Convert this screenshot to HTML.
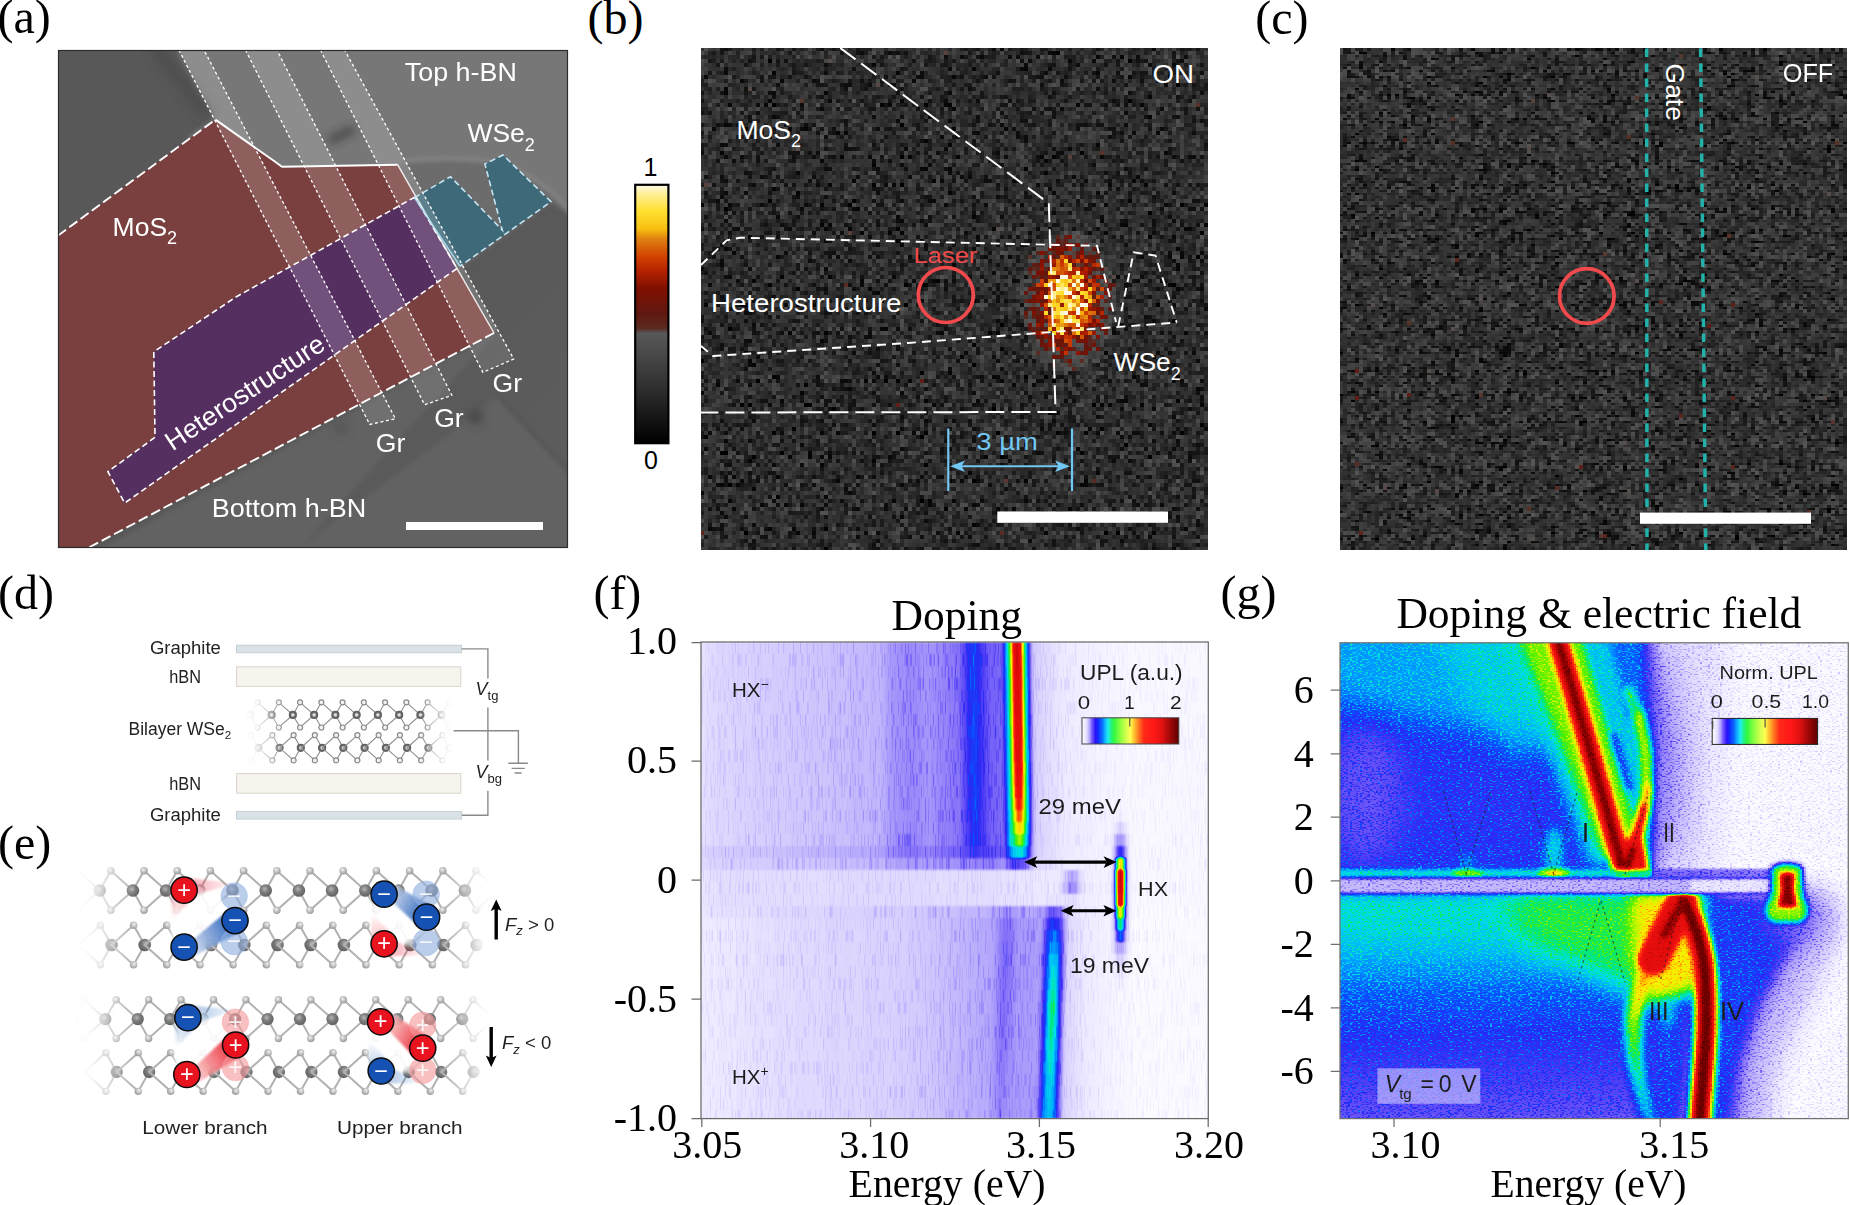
<!DOCTYPE html>
<html lang="en">
<head>
<meta charset="utf-8">
<title>Figure: heterostructure exciton transport and bilayer WSe2 UPL maps</title>
<style>
html,body{margin:0;padding:0;background:#fff;}
body{width:1850px;height:1205px;overflow:hidden;position:relative;}
svg{position:absolute;left:0;top:0;display:block;}
.ss{font-family:"Liberation Sans", "DejaVu Sans", sans-serif;}
.sf{font-family:"Liberation Serif", "DejaVu Serif", serif;}
</style>
</head>
<body>
<svg width="1850" height="1205" viewBox="0 0 1850 1205">
<defs>
<clipPath id="clipA"><rect x="58" y="50" width="510" height="498"/></clipPath>
<filter id="blurA" x="-5%" y="-5%" width="110%" height="110%"><feGaussianBlur stdDeviation="2.2"/></filter>
<filter id="blurA2" x="-20%" y="-20%" width="140%" height="140%"><feGaussianBlur stdDeviation="5"/></filter>
<linearGradient id="gA" x1="0" y1="0" x2="1" y2="1"><stop offset="0" stop-color="#5c5c5c"/><stop offset="0.5" stop-color="#575757"/><stop offset="1" stop-color="#5e5e5e"/></linearGradient>
<clipPath id="clipLo"><path d="M88,548 L494,333 L522,296 L568,296 L568,548 Z"/></clipPath>
<clipPath id="clipHi"><path d="M58,50 H568 V296 H522 L494,333 L88,548 H58 Z"/></clipPath>
<filter id="nzB" filterUnits="userSpaceOnUse" x="701" y="48" width="507" height="502" color-interpolation-filters="sRGB"><feTurbulence type="fractalNoise" baseFrequency="0.71" numOctaves="1" seed="7" result="n0"/><feColorMatrix in="n0" type="matrix" values="0.8 0 0 0 -0.190  0.8 0 0 0 -0.190  0.8 0 0 0 -0.190  0 0 0 0 1" result="n1"/><feComposite in="SourceGraphic" in2="n1" operator="arithmetic" k1="1.1" k2="0.77" k3="1" k4="0" result="sum"/><feFlood x="701" y="48" width="1" height="1" flood-color="#000" result="px"/><feComposite in="px" in2="px" operator="over" x="701" y="48" width="4" height="4" result="cell"/><feTile in="cell" result="grid"/><feComposite in="sum" in2="grid" operator="in" result="samp"/><feOffset in="samp" dx="1" dy="0" result="o1"/><feMerge result="m1"><feMergeNode in="samp"/><feMergeNode in="o1"/></feMerge><feOffset in="m1" dx="0" dy="1" result="o2"/><feMerge result="m2"><feMergeNode in="m1"/><feMergeNode in="o2"/></feMerge><feMorphology in="m2" operator="dilate" radius="1" result="pix"/><feComponentTransfer in="pix" result="col"><feFuncR type="table" tableValues="0 0.009 0.017 0.026 0.035 0.043 0.052 0.06 0.069 0.078 0.086 0.095 0.104 0.112 0.121 0.129 0.138 0.147 0.155 0.164 0.173 0.18 0.188 0.196 0.204 0.212 0.22 0.227 0.235 0.243 0.251 0.258 0.266 0.273 0.281 0.288 0.296 0.303 0.311 0.318 0.325 0.333 0.341 0.347 0.351 0.355 0.359 0.364 0.368 0.372 0.376 0.389 0.402 0.414 0.427 0.439 0.452 0.464 0.477 0.489 0.502 0.533 0.565 0.596 0.627 0.659 0.69 0.711 0.732 0.753 0.774 0.795 0.816 0.825 0.834 0.843 0.852 0.861 0.869 0.878 0.902 0.925 0.949 0.973 0.976 0.98 0.984 0.988 0.992 0.996 1 1 1 1 1 1 1 1 1 1 1"/><feFuncG type="table" tableValues="0 0.009 0.017 0.026 0.035 0.043 0.052 0.06 0.069 0.078 0.086 0.095 0.104 0.112 0.121 0.129 0.138 0.147 0.155 0.164 0.173 0.18 0.188 0.196 0.204 0.212 0.22 0.227 0.235 0.243 0.251 0.258 0.266 0.273 0.281 0.288 0.296 0.303 0.311 0.318 0.325 0.333 0.341 0.3 0.21 0.158 0.145 0.133 0.12 0.107 0.094 0.091 0.088 0.085 0.082 0.078 0.075 0.072 0.069 0.066 0.063 0.073 0.084 0.094 0.105 0.115 0.125 0.146 0.167 0.188 0.209 0.23 0.251 0.287 0.323 0.359 0.394 0.43 0.466 0.502 0.565 0.627 0.69 0.753 0.771 0.789 0.807 0.825 0.843 0.861 0.878 0.887 0.896 0.905 0.914 0.923 0.932 0.941 0.956 0.97 0.984"/><feFuncB type="table" tableValues="0 0.009 0.017 0.026 0.035 0.043 0.052 0.06 0.069 0.078 0.086 0.095 0.104 0.112 0.121 0.129 0.138 0.147 0.155 0.164 0.173 0.18 0.188 0.196 0.204 0.212 0.22 0.227 0.235 0.243 0.251 0.258 0.266 0.273 0.281 0.288 0.296 0.303 0.311 0.318 0.325 0.333 0.341 0.29 0.18 0.12 0.108 0.097 0.086 0.074 0.063 0.056 0.05 0.044 0.038 0.031 0.025 0.019 0.013 0.006 0 0 0 0 0 0 0 0 0 0 0 0 0 0.009 0.018 0.027 0.036 0.045 0.054 0.063 0.063 0.063 0.063 0.063 0.081 0.099 0.117 0.134 0.152 0.17 0.188 0.251 0.314 0.376 0.439 0.502 0.565 0.627 0.722 0.816 0.91"/></feComponentTransfer></filter>
<radialGradient id="spot1"><stop offset="0" stop-color="#fff" stop-opacity="0.72"/><stop offset="0.30" stop-color="#fff" stop-opacity="0.66"/><stop offset="0.42" stop-color="#fff" stop-opacity="0.55"/><stop offset="0.54" stop-color="#fff" stop-opacity="0.40"/><stop offset="0.77" stop-color="#fff" stop-opacity="0.23"/><stop offset="1" stop-color="#fff" stop-opacity="0"/></radialGradient>
<radialGradient id="spot2"><stop offset="0" stop-color="#fff" stop-opacity="0.55"/><stop offset="0.5" stop-color="#fff" stop-opacity="0.32"/><stop offset="1" stop-color="#fff" stop-opacity="0"/></radialGradient>
<linearGradient id="gHot" x1="0" y1="0" x2="0" y2="1"><stop offset="0.000" stop-color="#fffbe8"/><stop offset="0.030" stop-color="#fff0a0"/><stop offset="0.100" stop-color="#ffe030"/><stop offset="0.170" stop-color="#f8c010"/><stop offset="0.210" stop-color="#e08010"/><stop offset="0.280" stop-color="#d04000"/><stop offset="0.340" stop-color="#b02000"/><stop offset="0.400" stop-color="#801000"/><stop offset="0.500" stop-color="#601810"/><stop offset="0.555" stop-color="#5a2a20"/><stop offset="0.575" stop-color="#585858"/><stop offset="0.600" stop-color="#535353"/><stop offset="0.700" stop-color="#404040"/><stop offset="0.800" stop-color="#2c2c2c"/><stop offset="0.900" stop-color="#161616"/><stop offset="1.000" stop-color="#000000"/></linearGradient>
<filter id="nzC" filterUnits="userSpaceOnUse" x="1340" y="48.6" width="507" height="501.4" color-interpolation-filters="sRGB"><feTurbulence type="fractalNoise" baseFrequency="0.71" numOctaves="1" seed="23" result="n0"/><feColorMatrix in="n0" type="matrix" values="0.8 0 0 0 -0.190  0.8 0 0 0 -0.190  0.8 0 0 0 -0.190  0 0 0 0 1" result="n1"/><feComposite in="SourceGraphic" in2="n1" operator="arithmetic" k1="1.1" k2="0.77" k3="1" k4="0" result="sum"/><feFlood x="1340" y="48.6" width="1" height="1" flood-color="#000" result="px"/><feComposite in="px" in2="px" operator="over" x="1340" y="48.6" width="4" height="4" result="cell"/><feTile in="cell" result="grid"/><feComposite in="sum" in2="grid" operator="in" result="samp"/><feOffset in="samp" dx="1" dy="0" result="o1"/><feMerge result="m1"><feMergeNode in="samp"/><feMergeNode in="o1"/></feMerge><feOffset in="m1" dx="0" dy="1" result="o2"/><feMerge result="m2"><feMergeNode in="m1"/><feMergeNode in="o2"/></feMerge><feMorphology in="m2" operator="dilate" radius="1" result="pix"/><feComponentTransfer in="pix" result="col"><feFuncR type="table" tableValues="0 0.009 0.017 0.026 0.035 0.043 0.052 0.06 0.069 0.078 0.086 0.095 0.104 0.112 0.121 0.129 0.138 0.147 0.155 0.164 0.173 0.18 0.188 0.196 0.204 0.212 0.22 0.227 0.235 0.243 0.251 0.258 0.266 0.273 0.281 0.288 0.296 0.303 0.311 0.318 0.325 0.333 0.341 0.347 0.351 0.355 0.359 0.364 0.368 0.372 0.376 0.389 0.402 0.414 0.427 0.439 0.452 0.464 0.477 0.489 0.502 0.533 0.565 0.596 0.627 0.659 0.69 0.711 0.732 0.753 0.774 0.795 0.816 0.825 0.834 0.843 0.852 0.861 0.869 0.878 0.902 0.925 0.949 0.973 0.976 0.98 0.984 0.988 0.992 0.996 1 1 1 1 1 1 1 1 1 1 1"/><feFuncG type="table" tableValues="0 0.009 0.017 0.026 0.035 0.043 0.052 0.06 0.069 0.078 0.086 0.095 0.104 0.112 0.121 0.129 0.138 0.147 0.155 0.164 0.173 0.18 0.188 0.196 0.204 0.212 0.22 0.227 0.235 0.243 0.251 0.258 0.266 0.273 0.281 0.288 0.296 0.303 0.311 0.318 0.325 0.333 0.341 0.3 0.21 0.158 0.145 0.133 0.12 0.107 0.094 0.091 0.088 0.085 0.082 0.078 0.075 0.072 0.069 0.066 0.063 0.073 0.084 0.094 0.105 0.115 0.125 0.146 0.167 0.188 0.209 0.23 0.251 0.287 0.323 0.359 0.394 0.43 0.466 0.502 0.565 0.627 0.69 0.753 0.771 0.789 0.807 0.825 0.843 0.861 0.878 0.887 0.896 0.905 0.914 0.923 0.932 0.941 0.956 0.97 0.984"/><feFuncB type="table" tableValues="0 0.009 0.017 0.026 0.035 0.043 0.052 0.06 0.069 0.078 0.086 0.095 0.104 0.112 0.121 0.129 0.138 0.147 0.155 0.164 0.173 0.18 0.188 0.196 0.204 0.212 0.22 0.227 0.235 0.243 0.251 0.258 0.266 0.273 0.281 0.288 0.296 0.303 0.311 0.318 0.325 0.333 0.341 0.29 0.18 0.12 0.108 0.097 0.086 0.074 0.063 0.056 0.05 0.044 0.038 0.031 0.025 0.019 0.013 0.006 0 0 0 0 0 0 0 0 0 0 0 0 0 0.009 0.018 0.027 0.036 0.045 0.054 0.063 0.063 0.063 0.063 0.063 0.081 0.099 0.117 0.134 0.152 0.17 0.188 0.251 0.314 0.376 0.439 0.502 0.565 0.627 0.722 0.816 0.91"/></feComponentTransfer></filter>
<radialGradient id="gWd" cx="0.5" cy="0.5" r="0.5"><stop offset="0" stop-color="#f4f4f4"/><stop offset="0.3" stop-color="#d0d0d0"/><stop offset="0.55" stop-color="#6a6a6a"/><stop offset="1" stop-color="#5a5a5a"/></radialGradient>
<g id="ud"><path d="M0,0 L7.2,-12.6 L21.26,0 L7.2,12.6 Z" fill="none" stroke="#8c8c8c" stroke-width="1.1"/><circle cx="7.2" cy="-12.6" r="2.5" fill="#f2f2f2" stroke="#8a8a8a" stroke-width="1.2"/><circle cx="7.2" cy="12.6" r="2.5" fill="#f2f2f2" stroke="#8a8a8a" stroke-width="1.2"/><circle cx="0" cy="0" r="4.1" fill="url(#gWd)"/></g>
<linearGradient id="fadeL" x1="0" y1="0" x2="1" y2="0"><stop offset="0" stop-color="#fff" stop-opacity="1"/><stop offset="0.25" stop-color="#fff" stop-opacity="0.92"/><stop offset="1" stop-color="#fff" stop-opacity="0"/></linearGradient>
<linearGradient id="fadeR" x1="0" y1="0" x2="1" y2="0"><stop offset="0" stop-color="#fff" stop-opacity="0"/><stop offset="0.75" stop-color="#fff" stop-opacity="0.92"/><stop offset="1" stop-color="#fff" stop-opacity="1"/></linearGradient>
<radialGradient id="gW" cx="0.42" cy="0.38" r="0.62"><stop offset="0" stop-color="#b4b4b4"/><stop offset="0.5" stop-color="#7a7a7a"/><stop offset="1" stop-color="#626262"/></radialGradient>
<radialGradient id="gSe" cx="0.42" cy="0.38" r="0.62"><stop offset="0" stop-color="#f2f2f2"/><stop offset="0.45" stop-color="#c6c6c6"/><stop offset="1" stop-color="#9a9a9a"/></radialGradient>
<g id="ue"><path d="M0,0 L11.1,-19.8 L33.2,0 L11.1,19.8 Z" fill="none" stroke="#b2b2b2" stroke-width="2"/><circle cx="11.1" cy="-19.8" r="3.8" fill="url(#gSe)"/><circle cx="11.1" cy="19.8" r="3.8" fill="url(#gSe)"/><circle cx="0" cy="0" r="6.3" fill="url(#gW)"/></g>
<filter id="soft" x="-2%" y="-5%" width="104%" height="110%"><feGaussianBlur stdDeviation="0.55"/></filter>
<filter id="soft2" x="-30%" y="-30%" width="160%" height="160%"><feGaussianBlur stdDeviation="2.2"/></filter>
<filter id="soft3" x="-30%" y="-30%" width="160%" height="160%"><feGaussianBlur stdDeviation="1.3"/></filter>
<linearGradient id="tr0" gradientUnits="userSpaceOnUse" x1="184.1" y1="947.1" x2="235" y2="920.6"><stop offset="0" stop-color="#1552b4" stop-opacity="0.12"/><stop offset="1" stop-color="#1552b4" stop-opacity="0.9"/></linearGradient>
<linearGradient id="sg0" gradientUnits="userSpaceOnUse" x1="184.1" y1="890.2" x2="234.2" y2="896.1"><stop offset="0" stop-color="#e9121f" stop-opacity="0.38"/><stop offset="1" stop-color="#e9121f" stop-opacity="0.0"/></linearGradient>
<linearGradient id="sh0" gradientUnits="userSpaceOnUse" x1="184.1" y1="890.2" x2="184.1" y2="920.2"><stop offset="0" stop-color="#e9121f" stop-opacity="0.3"/><stop offset="1" stop-color="#e9121f" stop-opacity="0.0"/></linearGradient>
<linearGradient id="tr1" gradientUnits="userSpaceOnUse" x1="384.1" y1="894.2" x2="426.6" y2="917.2"><stop offset="0" stop-color="#1552b4" stop-opacity="0.12"/><stop offset="1" stop-color="#1552b4" stop-opacity="0.9"/></linearGradient>
<linearGradient id="sg1" gradientUnits="userSpaceOnUse" x1="384.1" y1="943.8" x2="426.2" y2="942.4"><stop offset="0" stop-color="#e9121f" stop-opacity="0.38"/><stop offset="1" stop-color="#e9121f" stop-opacity="0.0"/></linearGradient>
<linearGradient id="sh1" gradientUnits="userSpaceOnUse" x1="384.1" y1="943.8" x2="384.1" y2="913.8"><stop offset="0" stop-color="#e9121f" stop-opacity="0.3"/><stop offset="1" stop-color="#e9121f" stop-opacity="0.0"/></linearGradient>
<linearGradient id="tr2" gradientUnits="userSpaceOnUse" x1="186.8" y1="1074.5" x2="235.6" y2="1045"><stop offset="0" stop-color="#e9121f" stop-opacity="0.12"/><stop offset="1" stop-color="#e9121f" stop-opacity="0.9"/></linearGradient>
<linearGradient id="sg2" gradientUnits="userSpaceOnUse" x1="187.9" y1="1017.7" x2="235.4" y2="1022.2"><stop offset="0" stop-color="#1552b4" stop-opacity="0.38"/><stop offset="1" stop-color="#1552b4" stop-opacity="0.0"/></linearGradient>
<linearGradient id="sh2" gradientUnits="userSpaceOnUse" x1="187.9" y1="1017.7" x2="187.9" y2="1047.7"><stop offset="0" stop-color="#1552b4" stop-opacity="0.3"/><stop offset="1" stop-color="#1552b4" stop-opacity="0.0"/></linearGradient>
<linearGradient id="tr3" gradientUnits="userSpaceOnUse" x1="380.6" y1="1021.8" x2="422.7" y2="1048.2"><stop offset="0" stop-color="#e9121f" stop-opacity="0.12"/><stop offset="1" stop-color="#e9121f" stop-opacity="0.9"/></linearGradient>
<linearGradient id="sg3" gradientUnits="userSpaceOnUse" x1="381.2" y1="1071" x2="422.7" y2="1070.4"><stop offset="0" stop-color="#1552b4" stop-opacity="0.38"/><stop offset="1" stop-color="#1552b4" stop-opacity="0.0"/></linearGradient>
<linearGradient id="sh3" gradientUnits="userSpaceOnUse" x1="381.2" y1="1071" x2="381.2" y2="1041"><stop offset="0" stop-color="#1552b4" stop-opacity="0.3"/><stop offset="1" stop-color="#1552b4" stop-opacity="0.0"/></linearGradient>
<linearGradient id="gJet" x1="0" y1="0" x2="1" y2="0"><stop offset="0.000" stop-color="#ffffff"/><stop offset="0.050" stop-color="#e0dcff"/><stop offset="0.080" stop-color="#b0a0ff"/><stop offset="0.100" stop-color="#7a60ff"/><stop offset="0.140" stop-color="#2810f8"/><stop offset="0.170" stop-color="#1030ff"/><stop offset="0.210" stop-color="#0a70ff"/><stop offset="0.240" stop-color="#10b8ff"/><stop offset="0.270" stop-color="#20f0f0"/><stop offset="0.290" stop-color="#20f0a0"/><stop offset="0.330" stop-color="#30f840"/><stop offset="0.400" stop-color="#90ff40"/><stop offset="0.460" stop-color="#d8ff50"/><stop offset="0.500" stop-color="#ffff50"/><stop offset="0.540" stop-color="#ffc030"/><stop offset="0.590" stop-color="#ff7020"/><stop offset="0.640" stop-color="#ff2818"/><stop offset="0.740" stop-color="#ff1818"/><stop offset="0.830" stop-color="#e01010"/><stop offset="0.910" stop-color="#a00808"/><stop offset="1.000" stop-color="#600000"/></linearGradient>
<clipPath id="clipF"><rect x="701" y="642" width="507.29999999999995" height="476.5999999999999"/></clipPath>
<filter id="mapF" filterUnits="userSpaceOnUse" x="701" y="642" width="507.29999999999995" height="476.5999999999999" color-interpolation-filters="sRGB"><feTurbulence type="fractalNoise" baseFrequency="0.6 0.21" numOctaves="1" seed="11" result="n0"/><feColorMatrix in="n0" type="matrix" values="0.17 0 0 0 -0.085  0.17 0 0 0 -0.085  0.17 0 0 0 -0.085  0 0 0 0 1" result="n1"/><feComposite in="SourceGraphic" in2="n1" operator="arithmetic" k1="0.7" k2="1" k3="0.6" k4="0" result="sum"/><feFlood x="701" y="647" width="507.29999999999995" height="1" flood-color="#000" result="px"/><feComposite in="px" in2="px" operator="over" x="701" y="642" width="507.29999999999995" height="12" result="cell"/><feTile in="cell" result="grid"/><feComposite in="sum" in2="grid" operator="in" result="samp"/><feOffset in="samp" dx="0" dy="1" result="o1"/><feMerge result="m1"><feMergeNode in="samp"/><feMergeNode in="o1"/></feMerge><feMorphology in="m1" operator="dilate" radius="0 5" result="rows"/><feGaussianBlur in="rows" stdDeviation="0.5 0.9" result="rowsb"/><feComponentTransfer in="rowsb" result="col"><feFuncR type="table" tableValues="1 0.981 0.963 0.944 0.925 0.895 0.865 0.834 0.804 0.758 0.712 0.666 0.62 0.558 0.496 0.434 0.373 0.303 0.234 0.165 0.123 0.081 0.039 0.029 0.02 0.01 0 0 0 0 0 0 0 0 0 0.029 0.086 0.143 0.2 0.257 0.314 0.392 0.471 0.549 0.627 0.706 0.784 0.827 0.871 0.914 0.957 1 1 1 1 1 1 1 1 1 1 1 1 1 0.992 0.983 0.975 0.966 0.958 0.95 0.941 0.935 0.929 0.922 0.916 0.91 0.904 0.897 0.891 0.885 0.878 0.857 0.835 0.814 0.792 0.771 0.749 0.727 0.706 0.677 0.648 0.618 0.589 0.56 0.531 0.502 0.474 0.445 0.417 0.389 0.361"/><feFuncG type="table" tableValues="1 0.977 0.955 0.932 0.91 0.875 0.839 0.804 0.769 0.717 0.665 0.613 0.561 0.493 0.425 0.358 0.29 0.243 0.196 0.149 0.204 0.259 0.314 0.4 0.486 0.573 0.659 0.714 0.769 0.824 0.878 0.885 0.892 0.899 0.906 0.913 0.918 0.924 0.93 0.935 0.941 0.946 0.952 0.957 0.962 0.967 0.973 0.965 0.957 0.949 0.941 0.933 0.877 0.821 0.765 0.708 0.652 0.596 0.528 0.46 0.392 0.324 0.256 0.188 0.17 0.152 0.134 0.117 0.099 0.081 0.063 0.061 0.06 0.058 0.056 0.055 0.053 0.052 0.05 0.049 0.047 0.043 0.039 0.035 0.031 0.027 0.024 0.02 0.016 0.013 0.011 0.009 0.007 0.004 0.002 0 0 0 0 0 0"/><feFuncB type="table" tableValues="1 1 1 1 1 0.998 0.996 0.994 0.992 0.989 0.986 0.983 0.98 0.976 0.973 0.969 0.965 0.962 0.959 0.957 0.971 0.986 1 1 1 1 1 0.977 0.955 0.932 0.91 0.812 0.715 0.617 0.519 0.428 0.342 0.257 0.171 0.086 0 0 0 0 0 0 0 0 0 0 0 0 0 0 0 0 0 0 0.01 0.021 0.031 0.042 0.052 0.063 0.063 0.063 0.063 0.063 0.063 0.063 0.063 0.061 0.06 0.058 0.056 0.055 0.053 0.052 0.05 0.049 0.047 0.043 0.039 0.035 0.031 0.027 0.024 0.02 0.016 0.013 0.011 0.009 0.007 0.004 0.002 0 0 0 0 0 0"/></feComponentTransfer></filter>
<filter id="fb2" filterUnits="userSpaceOnUse" x="661" y="602" width="587.3" height="556.5999999999999" color-interpolation-filters="sRGB"><feGaussianBlur stdDeviation="2.2"/></filter>
<filter id="fb3" filterUnits="userSpaceOnUse" x="661" y="602" width="587.3" height="556.5999999999999" color-interpolation-filters="sRGB"><feGaussianBlur stdDeviation="3.2 5"/></filter>
<filter id="fb6" filterUnits="userSpaceOnUse" x="661" y="602" width="587.3" height="556.5999999999999" color-interpolation-filters="sRGB"><feGaussianBlur stdDeviation="6 5"/></filter>
<filter id="fb14" filterUnits="userSpaceOnUse" x="661" y="602" width="587.3" height="556.5999999999999" color-interpolation-filters="sRGB"><feGaussianBlur stdDeviation="14 4"/></filter>
<linearGradient id="f_bgU" gradientUnits="userSpaceOnUse" x1="701" y1="0" x2="1130" y2="0"><stop offset="0.0000" stop-color="#fff" stop-opacity="0.055"/><stop offset="0.2308" stop-color="#fff" stop-opacity="0.075"/><stop offset="0.4639" stop-color="#fff" stop-opacity="0.095"/><stop offset="0.5804" stop-color="#fff" stop-opacity="0.13"/><stop offset="0.6970" stop-color="#fff" stop-opacity="0.16"/><stop offset="0.7669" stop-color="#fff" stop-opacity="0.07"/><stop offset="0.8601" stop-color="#fff" stop-opacity="0.03"/><stop offset="1.0000" stop-color="#fff" stop-opacity="0.012"/></linearGradient>
<linearGradient id="f_bgL" gradientUnits="userSpaceOnUse" x1="701" y1="0" x2="1130" y2="0"><stop offset="0.0000" stop-color="#fff" stop-opacity="0.035"/><stop offset="0.2308" stop-color="#fff" stop-opacity="0.055"/><stop offset="0.4639" stop-color="#fff" stop-opacity="0.065"/><stop offset="0.6620" stop-color="#fff" stop-opacity="0.1"/><stop offset="0.7902" stop-color="#fff" stop-opacity="0.12"/><stop offset="0.8462" stop-color="#fff" stop-opacity="0.06"/><stop offset="0.9068" stop-color="#fff" stop-opacity="0.03"/><stop offset="1.0000" stop-color="#fff" stop-opacity="0.008"/></linearGradient>
<linearGradient id="f_bgM" gradientUnits="userSpaceOnUse" x1="701" y1="0" x2="1130" y2="0"><stop offset="0.0000" stop-color="#fff" stop-opacity="0.05"/><stop offset="0.4639" stop-color="#fff" stop-opacity="0.055"/><stop offset="0.6970" stop-color="#fff" stop-opacity="0.05"/><stop offset="0.7902" stop-color="#fff" stop-opacity="0.04"/><stop offset="0.8834" stop-color="#fff" stop-opacity="0.03"/><stop offset="1.0000" stop-color="#fff" stop-opacity="0.012"/></linearGradient>
<linearGradient id="f_s1" gradientUnits="userSpaceOnUse" x1="0" y1="640" x2="0" y2="860"><stop offset="0.0000" stop-color="#fff" stop-opacity="0.1"/><stop offset="0.7273" stop-color="#fff" stop-opacity="0.1"/><stop offset="0.9318" stop-color="#fff" stop-opacity="0.07"/><stop offset="1.0000" stop-color="#fff" stop-opacity="0"/></linearGradient>
<linearGradient id="f_s2" gradientUnits="userSpaceOnUse" x1="0" y1="905" x2="0" y2="1120"><stop offset="0.0000" stop-color="#fff" stop-opacity="0.0"/><stop offset="0.0930" stop-color="#fff" stop-opacity="0.05"/><stop offset="0.4419" stop-color="#fff" stop-opacity="0.05"/><stop offset="1.0000" stop-color="#fff" stop-opacity="0.03"/></linearGradient>
<linearGradient id="f_m1" gradientUnits="userSpaceOnUse" x1="0" y1="636" x2="0" y2="870"><stop offset="0.0000" stop-color="#fff" stop-opacity="0.3"/><stop offset="0.7009" stop-color="#fff" stop-opacity="0.3"/><stop offset="0.8504" stop-color="#fff" stop-opacity="0.26"/><stop offset="0.9274" stop-color="#fff" stop-opacity="0.17"/><stop offset="0.9829" stop-color="#fff" stop-opacity="0.06"/><stop offset="1.0000" stop-color="#fff" stop-opacity="0"/></linearGradient>
<linearGradient id="f_m2" gradientUnits="userSpaceOnUse" x1="0" y1="636" x2="0" y2="870"><stop offset="0.0000" stop-color="#fff" stop-opacity="0.7"/><stop offset="0.4444" stop-color="#fff" stop-opacity="0.7"/><stop offset="0.5812" stop-color="#fff" stop-opacity="0.65"/><stop offset="0.6838" stop-color="#fff" stop-opacity="0.56"/><stop offset="0.7564" stop-color="#fff" stop-opacity="0.43"/><stop offset="0.8162" stop-color="#fff" stop-opacity="0.3"/><stop offset="0.8675" stop-color="#fff" stop-opacity="0.18"/><stop offset="0.9145" stop-color="#fff" stop-opacity="0.06"/><stop offset="0.9487" stop-color="#fff" stop-opacity="0"/></linearGradient>
<linearGradient id="f_l1" gradientUnits="userSpaceOnUse" x1="0" y1="900" x2="0" y2="1125"><stop offset="0.0000" stop-color="#fff" stop-opacity="0"/><stop offset="0.0533" stop-color="#fff" stop-opacity="0.1"/><stop offset="0.1422" stop-color="#fff" stop-opacity="0.14"/><stop offset="0.2311" stop-color="#fff" stop-opacity="0.17"/><stop offset="1.0000" stop-color="#fff" stop-opacity="0.17"/></linearGradient>
<linearGradient id="f_l2" gradientUnits="userSpaceOnUse" x1="0" y1="900" x2="0" y2="1125"><stop offset="0.0222" stop-color="#fff" stop-opacity="0"/><stop offset="0.1333" stop-color="#fff" stop-opacity="0.0"/><stop offset="0.2133" stop-color="#fff" stop-opacity="0.035"/><stop offset="0.2889" stop-color="#fff" stop-opacity="0.07"/><stop offset="0.3778" stop-color="#fff" stop-opacity="0.115"/><stop offset="0.4889" stop-color="#fff" stop-opacity="0.15"/><stop offset="0.6444" stop-color="#fff" stop-opacity="0.115"/><stop offset="0.8000" stop-color="#fff" stop-opacity="0.06"/><stop offset="1.0000" stop-color="#fff" stop-opacity="0.05"/></linearGradient>
<linearGradient id="f_h1" gradientUnits="userSpaceOnUse" x1="0" y1="815" x2="0" y2="995"><stop offset="0.0000" stop-color="#fff" stop-opacity="0"/><stop offset="0.0944" stop-color="#fff" stop-opacity="0.07"/><stop offset="0.1833" stop-color="#fff" stop-opacity="0.15"/><stop offset="0.2389" stop-color="#fff" stop-opacity="0.17"/><stop offset="0.5556" stop-color="#fff" stop-opacity="0.17"/><stop offset="0.6944" stop-color="#fff" stop-opacity="0.13"/><stop offset="0.8056" stop-color="#fff" stop-opacity="0.05"/><stop offset="1.0000" stop-color="#fff" stop-opacity="0"/></linearGradient>
<linearGradient id="f_h2" gradientUnits="userSpaceOnUse" x1="0" y1="850" x2="0" y2="945"><stop offset="0.0000" stop-color="#fff" stop-opacity="0"/><stop offset="0.1053" stop-color="#fff" stop-opacity="0.25"/><stop offset="0.1789" stop-color="#fff" stop-opacity="0.75"/><stop offset="0.2316" stop-color="#fff" stop-opacity="0.95"/><stop offset="0.5053" stop-color="#fff" stop-opacity="0.95"/><stop offset="0.5895" stop-color="#fff" stop-opacity="0.6"/><stop offset="0.6842" stop-color="#fff" stop-opacity="0.36"/><stop offset="0.8211" stop-color="#fff" stop-opacity="0.2"/><stop offset="1.0000" stop-color="#fff" stop-opacity="0"/></linearGradient>
<clipPath id="clipG"><rect x="1340" y="642.8" width="508.29999999999995" height="475.79999999999995"/></clipPath>
<filter id="mapG" filterUnits="userSpaceOnUse" x="1340" y="642.8" width="508.29999999999995" height="475.79999999999995" color-interpolation-filters="sRGB"><feTurbulence type="fractalNoise" baseFrequency="0.6" numOctaves="1" seed="5" result="n0"/><feColorMatrix in="n0" type="matrix" values="0.34 0 0 0 -0.17  0.34 0 0 0 -0.17  0.34 0 0 0 -0.17  0 0 0 0 1" result="n1"/><feComposite in="SourceGraphic" in2="n1" operator="arithmetic" k1="0.5" k2="1" k3="0.75" k4="0" result="sum"/><feFlood x="1340" y="642.8" width="1" height="1" flood-color="#000" result="px"/><feComposite in="px" in2="px" operator="over" x="1340" y="642.8" width="2" height="2" result="cell"/><feTile in="cell" result="grid"/><feComposite in="sum" in2="grid" operator="in" result="samp"/><feOffset in="samp" dx="1" dy="0" result="o1"/><feMerge result="m1"><feMergeNode in="samp"/><feMergeNode in="o1"/></feMerge><feOffset in="m1" dx="0" dy="1" result="o2"/><feMerge result="pix"><feMergeNode in="m1"/><feMergeNode in="o2"/></feMerge><feComponentTransfer in="pix" result="col"><feFuncR type="table" tableValues="1 0.981 0.963 0.944 0.925 0.895 0.865 0.834 0.804 0.758 0.712 0.666 0.62 0.558 0.496 0.434 0.373 0.303 0.234 0.165 0.123 0.081 0.039 0.029 0.02 0.01 0 0 0 0 0 0 0 0 0 0.029 0.086 0.143 0.2 0.257 0.314 0.392 0.471 0.549 0.627 0.706 0.784 0.827 0.871 0.914 0.957 1 1 1 1 1 1 1 1 1 1 1 1 1 0.992 0.983 0.975 0.966 0.958 0.95 0.941 0.935 0.929 0.922 0.916 0.91 0.904 0.897 0.891 0.885 0.878 0.857 0.835 0.814 0.792 0.771 0.749 0.727 0.706 0.677 0.648 0.618 0.589 0.56 0.531 0.502 0.474 0.445 0.417 0.389 0.361"/><feFuncG type="table" tableValues="1 0.977 0.955 0.932 0.91 0.875 0.839 0.804 0.769 0.717 0.665 0.613 0.561 0.493 0.425 0.358 0.29 0.243 0.196 0.149 0.204 0.259 0.314 0.4 0.486 0.573 0.659 0.714 0.769 0.824 0.878 0.885 0.892 0.899 0.906 0.913 0.918 0.924 0.93 0.935 0.941 0.946 0.952 0.957 0.962 0.967 0.973 0.965 0.957 0.949 0.941 0.933 0.877 0.821 0.765 0.708 0.652 0.596 0.528 0.46 0.392 0.324 0.256 0.188 0.17 0.152 0.134 0.117 0.099 0.081 0.063 0.061 0.06 0.058 0.056 0.055 0.053 0.052 0.05 0.049 0.047 0.043 0.039 0.035 0.031 0.027 0.024 0.02 0.016 0.013 0.011 0.009 0.007 0.004 0.002 0 0 0 0 0 0"/><feFuncB type="table" tableValues="1 1 1 1 1 0.998 0.996 0.994 0.992 0.989 0.986 0.983 0.98 0.976 0.973 0.969 0.965 0.962 0.959 0.957 0.971 0.986 1 1 1 1 1 0.977 0.955 0.932 0.91 0.812 0.715 0.617 0.519 0.428 0.342 0.257 0.171 0.086 0 0 0 0 0 0 0 0 0 0 0 0 0 0 0 0 0 0 0.01 0.021 0.031 0.042 0.052 0.063 0.063 0.063 0.063 0.063 0.063 0.063 0.063 0.061 0.06 0.058 0.056 0.055 0.053 0.052 0.05 0.049 0.047 0.043 0.039 0.035 0.031 0.027 0.024 0.02 0.016 0.013 0.011 0.009 0.007 0.004 0.002 0 0 0 0 0 0"/></feComponentTransfer></filter>
<filter id="gb1" filterUnits="userSpaceOnUse" x="1280" y="582.8" width="628.3" height="595.8" color-interpolation-filters="sRGB"><feGaussianBlur stdDeviation="1.2"/></filter>
<filter id="gb2" filterUnits="userSpaceOnUse" x="1280" y="582.8" width="628.3" height="595.8" color-interpolation-filters="sRGB"><feGaussianBlur stdDeviation="2.2"/></filter>
<filter id="gb3" filterUnits="userSpaceOnUse" x="1280" y="582.8" width="628.3" height="595.8" color-interpolation-filters="sRGB"><feGaussianBlur stdDeviation="3.2"/></filter>
<filter id="gb5" filterUnits="userSpaceOnUse" x="1280" y="582.8" width="628.3" height="595.8" color-interpolation-filters="sRGB"><feGaussianBlur stdDeviation="5"/></filter>
<filter id="gb8" filterUnits="userSpaceOnUse" x="1280" y="582.8" width="628.3" height="595.8" color-interpolation-filters="sRGB"><feGaussianBlur stdDeviation="8"/></filter>
<filter id="gb14" filterUnits="userSpaceOnUse" x="1280" y="582.8" width="628.3" height="595.8" color-interpolation-filters="sRGB"><feGaussianBlur stdDeviation="14"/></filter>
<linearGradient id="g_low" gradientUnits="userSpaceOnUse" x1="0" y1="893" x2="0" y2="1125"><stop offset="0.000" stop-color="#4c4c4c"/><stop offset="0.159" stop-color="#494949"/><stop offset="0.289" stop-color="#414141"/><stop offset="0.418" stop-color="#383838"/><stop offset="0.547" stop-color="#323232"/><stop offset="0.720" stop-color="#2d2d2d"/><stop offset="1.000" stop-color="#262626"/></linearGradient>
<linearGradient id="g_t3" gradientUnits="userSpaceOnUse" x1="0" y1="955" x2="0" y2="1120"><stop offset="0" stop-color="#999999"/><stop offset="0.21" stop-color="#8a8a8a"/><stop offset="0.39" stop-color="#757575"/><stop offset="0.58" stop-color="#616161"/><stop offset="0.76" stop-color="#4f4f4f"/><stop offset="1" stop-color="#404040"/></linearGradient>
</defs>
<g id="panel-a"><g clip-path="url(#clipA)">
<rect x="58" y="50" width="510" height="498" fill="url(#gA)"/>
<g filter="url(#blurA)">
<path d="M176,40 L580,40 L580,222 C556,190 524,166 487,160 C460,157 430,157 405,160 L400,340 L215,340 Z" fill="#777777"/>
<path d="M398,163 C430,157 460,157 487,160 C524,166 556,190 580,222 L551,202 L460,268 L412,197 Z" fill="#6c6c6c"/>
<path d="M405,161 C430,158 460,158 487,161 C524,167 556,191 580,224" fill="none" stroke="#848484" stroke-width="4"/>
<path d="M300,548 L500,395 L580,480 L580,560 L80,560 L495,334 Z" fill="#626262"/>
<path d="M497,395 L575,478" fill="none" stroke="#555" stroke-width="4"/>
<path d="M58,50 L176,50 L215,118 L58,233 Z" fill="#585858"/>
</g>
<g filter="url(#blurA2)">
<path d="M331,140 L352,130" stroke="#2e2e2e" stroke-width="6" stroke-linecap="round" opacity="0.85"/>
<circle cx="475.5" cy="417" r="7" fill="#444"/><circle cx="341" cy="428" r="5" fill="#4c4c4c"/>
<path d="M152,44 L208,116" stroke="#4a4a4a" stroke-width="13" opacity="0.55"/>
</g>
<path d="M58,235.6 L215.4,119.6 L274.8,161.5 L282,166.8 L397.6,164.7 L494,333 L88,548 L58,548 Z" fill="#79403f"/>
<path d="M415,197 L236,297 L153.8,351.8 L155,437.3 L107.9,471.7 L124.7,503 L457,268.5 Z" fill="#562f61"/>
<path d="M414.4,197.6 L450.5,176.7 L502.3,230.1 L484.9,164 L503,155 L551,201.7 L460,266.2 Z" fill="#3e6979"/>
<path d="M179,50 L204,50 L395.4,418.8 L369.7,424.4 Z M245.5,50 L277,50 L451.9,395.3 L424.6,404.7 Z M320.5,50 L344.6,50 L513.7,359 L482.8,372.4 Z " fill="#fff" fill-opacity="0.165" clip-path="url(#clipHi)"/>
<path d="M179,50 L204,50 L395.4,418.8 L369.7,424.4 Z M245.5,50 L277,50 L451.9,395.3 L424.6,404.7 Z M320.5,50 L344.6,50 L513.7,359 L482.8,372.4 Z " fill="#fff" fill-opacity="0.095" clip-path="url(#clipLo)"/>
<path d="M179,50 L369.7,424.4 L395.4,418.8 L204,50" fill="none" stroke="#fff" stroke-width="1.3" stroke-dasharray="3 2.6"/>
<path d="M245.5,50 L424.6,404.7 L451.9,395.3 L277,50" fill="none" stroke="#fff" stroke-width="1.3" stroke-dasharray="3 2.6"/>
<path d="M320.5,50 L482.8,372.4 L513.7,359 L344.6,50" fill="none" stroke="#fff" stroke-width="1.3" stroke-dasharray="3 2.6"/>
<path d="M58,235.6 L215.4,119.6" fill="none" stroke="#fff" stroke-width="1.9" stroke-dasharray="10 4"/>
<path d="M215.4,119.6 L274.8,161.5 L282,166.8 L397.6,164.7" fill="none" stroke="#fff" stroke-width="1.9" stroke-linejoin="round"/>
<path d="M397.6,164.7 L494,333" fill="none" stroke="#fff" stroke-width="1.5" opacity="0.85"/>
<path d="M494,333 L88,548" fill="none" stroke="#fff" stroke-width="1.9" stroke-dasharray="10 4"/>
<path d="M415,197 L236,297 L153.8,351.8 L155,437.3 L107.9,471.7 L124.7,503 L457,268.5 Z" fill="none" stroke="#fff" stroke-width="1.6" stroke-dasharray="6 3.5"/>
<path d="M414.4,197.6 L450.5,176.7 L502.3,230.1 L484.9,164 L503,155 L551,201.7 L460,266.2" fill="none" stroke="#c4e6f4" stroke-width="1.6" stroke-dasharray="6 3.5"/>
<path d="M414.4,197.6 L460,266.2" fill="none" stroke="#a8dcf0" stroke-width="1.6" opacity="0.9"/>
<text class="ss" x="404.8" y="80.9" font-size="25" fill="#fff" textLength="112" lengthAdjust="spacingAndGlyphs">Top h-BN</text>
<text class="ss" x="467.4" y="142.3" font-size="26.5" fill="#fff">WSe<tspan font-size="18" dy="8.5">2</tspan></text>
<text class="ss" x="112.6" y="235.9" font-size="26.5" fill="#fff">MoS<tspan font-size="18" dy="8.5">2</tspan></text>
<g transform="translate(172.6,451.4) rotate(-33.7)"><text class="ss" x="0" y="0" font-size="26.5" fill="#fff" textLength="185.5" lengthAdjust="spacingAndGlyphs">Heterostructure</text></g>
<text class="ss" x="375.8" y="451.6" font-size="26.5" fill="#fff" textLength="29.5" lengthAdjust="spacingAndGlyphs">Gr</text>
<text class="ss" x="434.2" y="427" font-size="26.5" fill="#fff" textLength="29.5" lengthAdjust="spacingAndGlyphs">Gr</text>
<text class="ss" x="492.6" y="391.8" font-size="26.5" fill="#fff" textLength="29.5" lengthAdjust="spacingAndGlyphs">Gr</text>
<text class="ss" x="211.8" y="517.4" font-size="25" fill="#fff" textLength="154.5" lengthAdjust="spacingAndGlyphs">Bottom h-BN</text>
<rect x="406" y="522" width="137" height="8" fill="#fff"/>
</g>
<rect x="58.5" y="50.5" width="509" height="497" fill="none" stroke="#2c2c2c" stroke-width="1.2"/></g>
<text class="sf" x="-2.5" y="33.3" font-size="48" fill="#000">(a)</text>
<g id="panel-b"><g filter="url(#nzB)">
<rect x="701" y="48" width="507" height="502" fill="#000"/>
<ellipse cx="1068.5" cy="299.5" rx="51" ry="77" fill="url(#spot1)"/>
</g>
<path d="M840.3,48 L1048.8,203.3 L1055.6,412 L701,412.5" fill="none" stroke="#fff" stroke-width="2" stroke-dasharray="19 7"/>
<path d="M701,265 L726.6,240.4 L739.7,237.7 L1097,245.8 L1116,322" fill="none" stroke="#fff" stroke-width="1.9" stroke-dasharray="9 6"/>
<path d="M701,346 L713,356 L908,343 L1176.7,322.5" fill="none" stroke="#fff" stroke-width="1.9" stroke-dasharray="9 6"/>
<path d="M1118.3,326 L1133.7,252.4 L1155.5,255.6 L1176.7,322.5" fill="none" stroke="#fff" stroke-width="1.9" stroke-dasharray="9 6"/>
<circle cx="945.8" cy="295" r="27.5" fill="none" stroke="#f24a4c" stroke-width="3.7"/>
<text class="ss" x="913.4" y="262.5" font-size="22" fill="#f24a4c" textLength="64" lengthAdjust="spacingAndGlyphs">Laser</text>
<text class="ss" x="1152.4" y="82.5" font-size="26" fill="#fff" textLength="41.5" lengthAdjust="spacingAndGlyphs">ON</text>
<text class="ss" x="736.5" y="138.5" font-size="26.5" fill="#fff">MoS<tspan font-size="18" dy="8.5">2</tspan></text>
<text class="ss" x="711" y="311.6" font-size="26.5" fill="#fff" textLength="190.5" lengthAdjust="spacingAndGlyphs">Heterostructure</text>
<text class="ss" x="1113.4" y="371.2" font-size="26.5" fill="#fff">WSe<tspan font-size="18" dy="8.5">2</tspan></text>
<path d="M948.3,428.4 V491 M1072,428.4 V491" stroke="#72c8f2" stroke-width="2.2" fill="none"/>
<path d="M958,466.2 H1062" stroke="#72c8f2" stroke-width="2" fill="none"/>
<path d="M950,466.2 L965,460.4 L961.5,466.2 L965,472 Z M1070,466.2 L1055,460.4 L1058.5,466.2 L1055,472 Z" fill="#72c8f2"/>
<text class="ss" x="976.3" y="450" font-size="24" fill="#72c8f2" textLength="61.5" lengthAdjust="spacingAndGlyphs">3 µm</text>
<rect x="997.3" y="511.5" width="170.7" height="11.3" fill="#fff"/></g>
<text class="sf" x="587.5" y="33.5" font-size="48" fill="#000">(b)</text>
<rect x="635.2" y="184.8" width="33.2" height="258.4" fill="url(#gHot)" stroke="#000" stroke-width="2.2"/>
<text class="ss" x="650.5" y="176.3" font-size="25" fill="#000" text-anchor="middle">1</text>
<text class="ss" x="651" y="469" font-size="25" fill="#000" text-anchor="middle">0</text>
<g id="panel-c"><g filter="url(#nzC)"><rect x="1340" y="48.6" width="507" height="501.4" fill="#000"/></g>
<path d="M1646.6,48.6 L1647,550 M1700.6,48.6 L1705.8,550" stroke="#22b2aa" stroke-width="3.5" stroke-dasharray="8.5 6.5" fill="none"/>
<circle cx="1586.8" cy="296" r="27.3" fill="none" stroke="#f24a4c" stroke-width="3.7"/>
<g transform="translate(1665.5,63.6) rotate(90)"><text class="ss" x="0" y="0" font-size="26" fill="#fff" textLength="57.3" lengthAdjust="spacingAndGlyphs">Gate</text></g>
<text class="ss" x="1782.8" y="81.8" font-size="26" fill="#fff" textLength="50.5" lengthAdjust="spacingAndGlyphs">OFF</text>
<rect x="1640" y="512.6" width="171" height="11.2" fill="#fff"/></g>
<text class="sf" x="1255.2" y="33.5" font-size="48" fill="#000">(c)</text>
<text class="sf" x="-2" y="609" font-size="48" fill="#000">(d)</text>
<text class="sf" x="-2" y="858.6" font-size="48" fill="#000">(e)</text>
<g id="panel-d"><rect x="236.6" y="645.2" width="225" height="7.6" fill="#d9e3e7" stroke="#c3cdd2" stroke-width="0.9"/>
<rect x="236.6" y="811.5" width="225" height="7.6" fill="#d9e3e7" stroke="#c3cdd2" stroke-width="0.9"/>
<rect x="236.6" y="666.8" width="224.2" height="19.6" fill="#f7f4ed" stroke="#d6d2ca" stroke-width="0.9"/>
<rect x="236.6" y="773.6" width="224.2" height="19.6" fill="#f7f4ed" stroke="#d6d2ca" stroke-width="0.9"/>
<g>
<use href="#ud" x="250.34" y="714.9"/>
<use href="#ud" x="271.60" y="714.9"/>
<use href="#ud" x="292.86" y="714.9"/>
<use href="#ud" x="314.12" y="714.9"/>
<use href="#ud" x="335.38" y="714.9"/>
<use href="#ud" x="356.64" y="714.9"/>
<use href="#ud" x="377.90" y="714.9"/>
<use href="#ud" x="399.16" y="714.9"/>
<use href="#ud" x="420.42" y="714.9"/>
<use href="#ud" x="441.68" y="714.9"/>
<use href="#ud" transform="translate(258.30,747.8) scale(-1,1)"/>
<use href="#ud" transform="translate(279.56,747.8) scale(-1,1)"/>
<use href="#ud" transform="translate(300.82,747.8) scale(-1,1)"/>
<use href="#ud" transform="translate(322.08,747.8) scale(-1,1)"/>
<use href="#ud" transform="translate(343.34,747.8) scale(-1,1)"/>
<use href="#ud" transform="translate(364.60,747.8) scale(-1,1)"/>
<use href="#ud" transform="translate(385.86,747.8) scale(-1,1)"/>
<use href="#ud" transform="translate(407.12,747.8) scale(-1,1)"/>
<use href="#ud" transform="translate(428.38,747.8) scale(-1,1)"/>
<use href="#ud" transform="translate(449.64,747.8) scale(-1,1)"/>
<rect x="244" y="696" width="42" height="72" fill="url(#fadeL)"/>
<rect x="420" y="696" width="34" height="72" fill="url(#fadeR)"/>
<rect x="230" y="696" width="15" height="72" fill="#fff"/><rect x="453.5" y="696" width="12" height="72" fill="#fff"/>
</g>
<path d="M461.8,648.9 H487.9 V678.4 M487.9,707.6 V760.5 M487.9,790.7 V815.3 H461.8 M453.6,730.8 H518.4 V763.3 M508.3,763.3 H527.9 M511.6,768.4 H524.8 M514.6,773 H521.6" fill="none" stroke="#8a8a8a" stroke-width="1.4"/>
<text class="ss" x="149.9" y="654.1" font-size="17.5" fill="#222" textLength="71" lengthAdjust="spacingAndGlyphs">Graphite</text>
<text class="ss" x="169.2" y="682.7" font-size="17.5" fill="#222" textLength="31.8" lengthAdjust="spacingAndGlyphs">hBN</text>
<text class="ss" x="128.5" y="735" font-size="17.5" fill="#222">Bilayer WSe<tspan font-size="11.5" dy="4">2</tspan></text>
<text class="ss" x="169.2" y="789.6" font-size="17.5" fill="#222" textLength="31.8" lengthAdjust="spacingAndGlyphs">hBN</text>
<text class="ss" x="149.9" y="820.5" font-size="17.5" fill="#222" textLength="71" lengthAdjust="spacingAndGlyphs">Graphite</text>
<text class="ss" x="475.5" y="694.8" font-size="18" fill="#222"><tspan font-style="italic">V</tspan><tspan font-size="13" dy="5">tg</tspan></text>
<text class="ss" x="475.5" y="778.4" font-size="18" fill="#222"><tspan font-style="italic">V</tspan><tspan font-size="13" dy="5">bg</tspan></text></g>
<g id="panel-e"><g filter="url(#soft)">
<use href="#ue" transform="translate(66.50,890.5) scale(1.0000)"/>
<use href="#ue" transform="translate(99.70,890.5) scale(1.0000)"/>
<use href="#ue" transform="translate(132.90,890.5) scale(1.0000)"/>
<use href="#ue" transform="translate(166.10,890.5) scale(1.0000)"/>
<use href="#ue" transform="translate(199.30,890.5) scale(1.0000)"/>
<use href="#ue" transform="translate(232.50,890.5) scale(1.0000)"/>
<use href="#ue" transform="translate(265.70,890.5) scale(1.0000)"/>
<use href="#ue" transform="translate(298.90,890.5) scale(1.0000)"/>
<use href="#ue" transform="translate(332.10,890.5) scale(1.0000)"/>
<use href="#ue" transform="translate(365.30,890.5) scale(1.0000)"/>
<use href="#ue" transform="translate(398.50,890.5) scale(1.0000)"/>
<use href="#ue" transform="translate(431.70,890.5) scale(1.0000)"/>
<use href="#ue" transform="translate(464.90,890.5) scale(1.0000)"/>
<use href="#ue" transform="translate(111.50,945) scale(-1.0000,1.0000)"/>
<use href="#ue" transform="translate(144.70,945) scale(-1.0000,1.0000)"/>
<use href="#ue" transform="translate(177.90,945) scale(-1.0000,1.0000)"/>
<use href="#ue" transform="translate(211.10,945) scale(-1.0000,1.0000)"/>
<use href="#ue" transform="translate(244.30,945) scale(-1.0000,1.0000)"/>
<use href="#ue" transform="translate(277.50,945) scale(-1.0000,1.0000)"/>
<use href="#ue" transform="translate(310.70,945) scale(-1.0000,1.0000)"/>
<use href="#ue" transform="translate(343.90,945) scale(-1.0000,1.0000)"/>
<use href="#ue" transform="translate(377.10,945) scale(-1.0000,1.0000)"/>
<use href="#ue" transform="translate(410.30,945) scale(-1.0000,1.0000)"/>
<use href="#ue" transform="translate(443.50,945) scale(-1.0000,1.0000)"/>
<use href="#ue" transform="translate(476.70,945) scale(-1.0000,1.0000)"/>
<use href="#ue" transform="translate(72.85,1019.1) scale(0.9774)"/>
<use href="#ue" transform="translate(105.30,1019.1) scale(0.9774)"/>
<use href="#ue" transform="translate(137.75,1019.1) scale(0.9774)"/>
<use href="#ue" transform="translate(170.20,1019.1) scale(0.9774)"/>
<use href="#ue" transform="translate(202.65,1019.1) scale(0.9774)"/>
<use href="#ue" transform="translate(235.10,1019.1) scale(0.9774)"/>
<use href="#ue" transform="translate(267.55,1019.1) scale(0.9774)"/>
<use href="#ue" transform="translate(300.00,1019.1) scale(0.9774)"/>
<use href="#ue" transform="translate(332.45,1019.1) scale(0.9774)"/>
<use href="#ue" transform="translate(364.90,1019.1) scale(0.9774)"/>
<use href="#ue" transform="translate(397.35,1019.1) scale(0.9774)"/>
<use href="#ue" transform="translate(429.80,1019.1) scale(0.9774)"/>
<use href="#ue" transform="translate(462.25,1019.1) scale(0.9774)"/>
<use href="#ue" transform="translate(116.70,1072) scale(-0.9774,0.9774)"/>
<use href="#ue" transform="translate(149.15,1072) scale(-0.9774,0.9774)"/>
<use href="#ue" transform="translate(181.60,1072) scale(-0.9774,0.9774)"/>
<use href="#ue" transform="translate(214.05,1072) scale(-0.9774,0.9774)"/>
<use href="#ue" transform="translate(246.50,1072) scale(-0.9774,0.9774)"/>
<use href="#ue" transform="translate(278.95,1072) scale(-0.9774,0.9774)"/>
<use href="#ue" transform="translate(311.40,1072) scale(-0.9774,0.9774)"/>
<use href="#ue" transform="translate(343.85,1072) scale(-0.9774,0.9774)"/>
<use href="#ue" transform="translate(376.30,1072) scale(-0.9774,0.9774)"/>
<use href="#ue" transform="translate(408.75,1072) scale(-0.9774,0.9774)"/>
<use href="#ue" transform="translate(441.20,1072) scale(-0.9774,0.9774)"/>
<use href="#ue" transform="translate(473.65,1072) scale(-0.9774,0.9774)"/>
</g>
<rect x="74" y="860" width="62" height="240" fill="url(#fadeL)"/>
<rect x="444" y="860" width="52" height="240" fill="url(#fadeR)"/>
<rect x="60" y="860" width="15" height="240" fill="#fff"/><rect x="495" y="860" width="14" height="240" fill="#fff"/>
<path d="M190.6,879.4 L241.5,909.8 L240.8,931.8 L189.9,958.3 L171.5,947.1 L171.5,890.2 Z" fill="#fff" fill-opacity="0.9" filter="url(#soft2)"/>
<path d="M189.9,958.3 L240.8,931.8 L229.2,909.4 L184.1,947.1 Z" fill="url(#tr0)" filter="url(#soft3)"/>
<path d="M185.6,877.7 L235.7,883.6 L183.2,898.1 Z" fill="url(#sg0)" filter="url(#soft3)"/>
<path d="M171.5,890.2 L171.5,920.2 L188.1,904.2 Z" fill="url(#sh0)" filter="url(#soft3)"/>
<circle cx="234.2" cy="896.1" r="13.3" fill="#8fb0e0" fill-opacity="0.62" stroke="#8fb0e0" stroke-opacity="0.35" stroke-width="1"/><text class="ss" x="234.2" y="903.7" font-size="23.5" fill="#fff" fill-opacity="0.85" text-anchor="middle">−</text>
<circle cx="234.2" cy="941.6" r="13.3" fill="#8fb0e0" fill-opacity="0.62" stroke="#8fb0e0" stroke-opacity="0.35" stroke-width="1"/><text class="ss" x="234.2" y="949.2" font-size="23.5" fill="#fff" fill-opacity="0.85" text-anchor="middle">−</text>
<circle cx="184.1" cy="947.1" r="13.1" fill="#1552b4" stroke="#0c0c0c" stroke-width="1.5"/><text class="ss" x="184.1" y="954.7" font-size="23.5" fill="#fff" text-anchor="middle">−</text>
<circle cx="235" cy="920.6" r="13.1" fill="#1552b4" stroke="#0c0c0c" stroke-width="1.5"/><text class="ss" x="235" y="928.2" font-size="23.5" fill="#fff" text-anchor="middle">−</text>
<circle cx="184.1" cy="890.2" r="13.1" fill="#e9121f" stroke="#0c0c0c" stroke-width="1.5"/><text class="ss" x="184.1" y="897.8" font-size="23.5" fill="#fff" text-anchor="middle">+</text>
<path d="M390.8,954.5 L433.3,927.9 L432.6,906.1 L390.1,883.1 L371.5,894.2 L371.5,943.8 Z" fill="#fff" fill-opacity="0.9" filter="url(#soft2)"/>
<path d="M390.1,883.1 L432.6,906.1 L420.6,928.3 L384.1,894.2 Z" fill="url(#tr1)" filter="url(#soft3)"/>
<path d="M384.5,956.4 L426.6,955.0 L383.8,935.8 Z" fill="url(#sg1)" filter="url(#soft3)"/>
<path d="M371.5,943.8 L371.5,913.8 L388.1,929.8 Z" fill="url(#sh1)" filter="url(#soft3)"/>
<circle cx="426.2" cy="894.2" r="13.3" fill="#8fb0e0" fill-opacity="0.62" stroke="#8fb0e0" stroke-opacity="0.35" stroke-width="1"/><text class="ss" x="426.2" y="901.8" font-size="23.5" fill="#fff" fill-opacity="0.85" text-anchor="middle">−</text>
<circle cx="426.2" cy="942.4" r="13.3" fill="#8fb0e0" fill-opacity="0.62" stroke="#8fb0e0" stroke-opacity="0.35" stroke-width="1"/><text class="ss" x="426.2" y="950.0" font-size="23.5" fill="#fff" fill-opacity="0.85" text-anchor="middle">−</text>
<circle cx="384.1" cy="894.2" r="13.1" fill="#1552b4" stroke="#0c0c0c" stroke-width="1.5"/><text class="ss" x="384.1" y="901.8" font-size="23.5" fill="#fff" text-anchor="middle">−</text>
<circle cx="426.6" cy="917.2" r="13.1" fill="#1552b4" stroke="#0c0c0c" stroke-width="1.5"/><text class="ss" x="426.6" y="924.8" font-size="23.5" fill="#fff" text-anchor="middle">−</text>
<circle cx="384.1" cy="943.8" r="13.1" fill="#e9121f" stroke="#0c0c0c" stroke-width="1.5"/><text class="ss" x="384.1" y="951.4" font-size="23.5" fill="#fff" text-anchor="middle">+</text>
<path d="M194.2,1006.8 L241.9,1034.1 L242.1,1055.8 L193.3,1085.3 L174.2,1074.3 L175.3,1017.5 Z" fill="#fff" fill-opacity="0.9" filter="url(#soft2)"/>
<path d="M193.3,1085.3 L242.1,1055.8 L229.1,1034.2 L186.8,1074.5 Z" fill="url(#tr2)" filter="url(#soft3)"/>
<path d="M189.1,1005.2 L236.6,1009.7 L187.1,1025.7 Z" fill="url(#sg2)" filter="url(#soft3)"/>
<path d="M175.3,1017.7 L175.3,1047.7 L191.9,1031.7 Z" fill="url(#sh2)" filter="url(#soft3)"/>
<circle cx="235.4" cy="1022.2" r="13.3" fill="#f59a9c" fill-opacity="0.62" stroke="#f59a9c" stroke-opacity="0.35" stroke-width="1"/><text class="ss" x="235.4" y="1029.8" font-size="23.5" fill="#fff" fill-opacity="0.85" text-anchor="middle">+</text>
<circle cx="235.4" cy="1067.5" r="13.3" fill="#f59a9c" fill-opacity="0.62" stroke="#f59a9c" stroke-opacity="0.35" stroke-width="1"/><text class="ss" x="235.4" y="1075.1" font-size="23.5" fill="#fff" fill-opacity="0.85" text-anchor="middle">+</text>
<circle cx="186.8" cy="1074.5" r="13.1" fill="#e9121f" stroke="#0c0c0c" stroke-width="1.5"/><text class="ss" x="186.8" y="1082.1" font-size="23.5" fill="#fff" text-anchor="middle">+</text>
<circle cx="235.6" cy="1045" r="13.1" fill="#e9121f" stroke="#0c0c0c" stroke-width="1.5"/><text class="ss" x="235.6" y="1052.6" font-size="23.5" fill="#fff" text-anchor="middle">+</text>
<circle cx="187.9" cy="1017.7" r="13.1" fill="#1552b4" stroke="#0c0c0c" stroke-width="1.5"/><text class="ss" x="187.9" y="1025.3" font-size="23.5" fill="#fff" text-anchor="middle">−</text>
<path d="M387.3,1082.0 L428.8,1059.2 L429.4,1037.5 L387.3,1011.1 L368.0,1022.0 L368.6,1071.2 Z" fill="#fff" fill-opacity="0.9" filter="url(#soft2)"/>
<path d="M387.3,1011.1 L429.4,1037.5 L416.0,1058.9 L380.6,1021.8 Z" fill="url(#tr3)" filter="url(#soft3)"/>
<path d="M381.4,1083.6 L422.9,1083.0 L381.1,1063.0 Z" fill="url(#sg3)" filter="url(#soft3)"/>
<path d="M368.59999999999997,1071 L368.59999999999997,1041 L385.2,1057 Z" fill="url(#sh3)" filter="url(#soft3)"/>
<circle cx="422.7" cy="1025.4" r="13.3" fill="#f59a9c" fill-opacity="0.62" stroke="#f59a9c" stroke-opacity="0.35" stroke-width="1"/><text class="ss" x="422.7" y="1033.0" font-size="23.5" fill="#fff" fill-opacity="0.85" text-anchor="middle">+</text>
<circle cx="422.7" cy="1070.4" r="13.3" fill="#f59a9c" fill-opacity="0.62" stroke="#f59a9c" stroke-opacity="0.35" stroke-width="1"/><text class="ss" x="422.7" y="1078.0" font-size="23.5" fill="#fff" fill-opacity="0.85" text-anchor="middle">+</text>
<circle cx="380.6" cy="1021.8" r="13.1" fill="#e9121f" stroke="#0c0c0c" stroke-width="1.5"/><text class="ss" x="380.6" y="1029.4" font-size="23.5" fill="#fff" text-anchor="middle">+</text>
<circle cx="422.7" cy="1048.2" r="13.1" fill="#e9121f" stroke="#0c0c0c" stroke-width="1.5"/><text class="ss" x="422.7" y="1055.8" font-size="23.5" fill="#fff" text-anchor="middle">+</text>
<circle cx="381.2" cy="1071" r="13.1" fill="#1552b4" stroke="#0c0c0c" stroke-width="1.5"/><text class="ss" x="381.2" y="1078.6" font-size="23.5" fill="#fff" text-anchor="middle">−</text>
<path d="M496.2,939.5 V908" stroke="#000" stroke-width="3.4" fill="none"/><path d="M496.2,899.5 L501.6,911 L496.2,908.6 L490.8,911 Z" fill="#000"/>
<path d="M491.2,1027 V1058" stroke="#000" stroke-width="3.4" fill="none"/><path d="M491.2,1067 L496.6,1055.5 L491.2,1057.9 L485.8,1055.5 Z" fill="#000"/>
<text class="ss" x="505" y="930.5" font-size="18.5" fill="#222"><tspan font-style="italic">F</tspan><tspan font-size="13" dy="4.5"><tspan font-style="italic">z</tspan></tspan><tspan dy="-4.5" font-size="18.5"> &gt; 0</tspan></text>
<text class="ss" x="502" y="1049.2" font-size="18.5" fill="#222"><tspan font-style="italic">F</tspan><tspan font-size="13" dy="4.5"><tspan font-style="italic">z</tspan></tspan><tspan dy="-4.5" font-size="18.5"> &lt; 0</tspan></text>
<text class="ss" x="142.2" y="1133.6" font-size="18.5" fill="#222" textLength="125.4" lengthAdjust="spacingAndGlyphs">Lower branch</text>
<text class="ss" x="337.1" y="1133.6" font-size="18.5" fill="#222" textLength="125.4" lengthAdjust="spacingAndGlyphs">Upper branch</text></g>
<text class="sf" x="593.4" y="608.8" font-size="48" fill="#000">(f)</text>
<g id="panel-f"><g filter="url(#mapF)" clip-path="url(#clipF)">
<rect x="696" y="637" width="517.3" height="486.5999999999999" fill="#000"/>
<g filter="url(#fb14)">
<rect x="690" y="630" width="530" height="236" fill="url(#f_bgU)"/>
<rect x="690" y="866" width="530" height="42" fill="url(#f_bgM)"/>
<rect x="690" y="908" width="530" height="220" fill="url(#f_bgL)"/>
</g>
<g filter="url(#fb6)">
<rect x="690" y="842" width="340" height="24" fill="#fff" fill-opacity="0.016"/>
<rect x="690" y="906" width="360" height="12" fill="#fff" fill-opacity="0.012"/>
<path d="M967,636 L979,636 L981,860 L969,860 Z" fill="url(#f_s1)"/>
<rect x="885" y="640" width="36" height="226" fill="#fff" fill-opacity="0.025"/>
<path d="M1001,905 L1013,905 L1006,1125 L994,1125 Z" fill="url(#f_s2)"/>
<ellipse cx="1072.5" cy="884" rx="5" ry="14" fill="#fff" fill-opacity="0.16"/>
</g>
<path d="M1006,630 L1027.6,630 L1030.4,868 L1008.8,868 Z" fill="url(#f_m1)" filter="url(#fb3)"/>
<path d="M1012.2,630 L1021.4,630 L1024.2,862 L1015.6,862 Z" fill="url(#f_m2)" filter="url(#fb2)"/>
<path d="M1046.5,900 L1064.5,900 L1058,1125 L1040,1125 Z" fill="url(#f_l1)" filter="url(#fb3)"/>
<path d="M1052,905 L1059.5,905 L1052.6,1125 L1045.4,1125 Z" fill="url(#f_l2)" filter="url(#fb2)"/>
<rect x="1114.5" y="815" width="12" height="180" fill="url(#f_h1)" filter="url(#fb3)"/>
<rect x="1117.4" y="850" width="6.2" height="95" fill="url(#f_h2)" filter="url(#fb2)"/>
</g>
<rect x="701" y="642" width="507.29999999999995" height="476.5999999999999" fill="none" stroke="#6a6a6a" stroke-width="1.25"/>
<path d="M691.5,642.5 H701 M691.5,761 H701 M691.5,880 H701 M691.5,999 H701 M691.5,1118.6 H701 M701.8,1118.6 V1127 M870.6,1118.6 V1127 M1039.4,1118.6 V1127 M1208.2,1118.6 V1127 " stroke="#6a6a6a" stroke-width="1.25" fill="none"/>
<text class="sf" x="677" y="654" font-size="40" fill="#000" text-anchor="end">1.0</text>
<text class="sf" x="677" y="773.3" font-size="40" fill="#000" text-anchor="end">0.5</text>
<text class="sf" x="677" y="892.7" font-size="40" fill="#000" text-anchor="end">0</text>
<text class="sf" x="677" y="1012" font-size="40" fill="#000" text-anchor="end">-0.5</text>
<text class="sf" x="677" y="1131.3" font-size="40" fill="#000" text-anchor="end">-1.0</text>
<text class="sf" x="707.2" y="1158" font-size="40" fill="#000" text-anchor="middle">3.05</text>
<text class="sf" x="874.2" y="1158" font-size="40" fill="#000" text-anchor="middle">3.10</text>
<text class="sf" x="1041.1" y="1158" font-size="40" fill="#000" text-anchor="middle">3.15</text>
<text class="sf" x="1209" y="1158" font-size="40" fill="#000" text-anchor="middle">3.20</text>
<text class="sf" x="848.6" y="1196.5" font-size="40.4" fill="#000" textLength="197" lengthAdjust="spacingAndGlyphs">Energy (eV)</text>
<text class="sf" x="891.5" y="630" font-size="43.5" fill="#000" textLength="130.6" lengthAdjust="spacingAndGlyphs">Doping</text>
<text class="ss" x="732" y="696.8" font-size="20.5" fill="#1c1c1c">HX<tspan font-size="14" dy="-8">−</tspan></text>
<text class="ss" x="732" y="1083.5" font-size="20.5" fill="#1c1c1c">HX<tspan font-size="14" dy="-8">+</tspan></text>
<text class="ss" x="1138.1" y="896.1" font-size="20.5" fill="#1c1c1c" textLength="30" lengthAdjust="spacingAndGlyphs">HX</text>
<text class="ss" x="1038.6" y="813.8" font-size="22.5" fill="#1c1c1c" textLength="82.3" lengthAdjust="spacingAndGlyphs">29 meV</text>
<text class="ss" x="1070" y="972.5" font-size="22.5" fill="#1c1c1c" textLength="79" lengthAdjust="spacingAndGlyphs">19 meV</text>
<text class="ss" x="1080" y="679.7" font-size="22" fill="#1c1c1c" textLength="102.7" lengthAdjust="spacingAndGlyphs">UPL (a.u.)</text>
<text class="ss" x="1083.9" y="708.5" font-size="19" fill="#1c1c1c" text-anchor="middle" textLength="12.4" lengthAdjust="spacingAndGlyphs">0</text>
<text class="ss" x="1129.4" y="708.5" font-size="19" fill="#1c1c1c" text-anchor="middle" textLength="10.4" lengthAdjust="spacingAndGlyphs">1</text>
<text class="ss" x="1175.9" y="708.5" font-size="19" fill="#1c1c1c" text-anchor="middle" textLength="11.6" lengthAdjust="spacingAndGlyphs">2</text>
<rect x="1082" y="717.8" width="96.8" height="26.2" fill="url(#gJet)" stroke="#444" stroke-width="1"/>
<path d="M1129.8,718 V726.6" stroke="#444" stroke-width="1.1"/>
<path d="M1034.2,862.1 H1106.6" stroke="#000" stroke-width="3.1" fill="none"/><path d="M1024.2,862.1 L1037.2,856.3000000000001 L1034.2,862.1 L1037.2,867.9 Z M1116.6,862.1 L1103.6,856.3000000000001 L1106.6,862.1 L1103.6,867.9 Z" fill="#000"/>
<path d="M1070.6,910.7 H1106.4" stroke="#000" stroke-width="3.1" fill="none"/><path d="M1060.6,910.7 L1073.6,904.9000000000001 L1070.6,910.7 L1073.6,916.5 Z M1116.4,910.7 L1103.4,904.9000000000001 L1106.4,910.7 L1103.4,916.5 Z" fill="#000"/></g>
<text class="sf" x="1220.5" y="608.8" font-size="48" fill="#000">(g)</text>
<g id="panel-g"><g filter="url(#mapG)" clip-path="url(#clipG)">
<rect x="1335" y="637.8" width="518.3" height="485.79999999999995" fill="#000"/>
<g filter="url(#gb14)">
<path d="M1640,600 H1900 V1160 H1700 Z" fill="#020202"/>
<path d="M1640,600 H1725 L1712,880 L1780,1160 H1690 Z" fill="#0d0d0d"/>
</g>
<g filter="url(#gb8)">
<path d="M1300,600 H1645 L1662,740 L1656,880 H1300 Z" fill="#313131"/>
<path d="M1300,888 H1716 L1724,1000 L1716,1160 H1300 Z" fill="url(#g_low)"/>
</g>
<g filter="url(#gb14)">
<path d="M1300,600 H1560 L1575,700 L1500,735 L1400,715 L1300,690 Z" fill="#434343" fill-opacity="0.85"/>
<path d="M1420,600 H1560 L1580,720 L1520,760 L1470,700 Z" fill="#4c4c4c" fill-opacity="0.7"/>
<ellipse cx="1366" cy="795" rx="40" ry="68" fill="#262626" fill-opacity="0.8"/>
<ellipse cx="1470" cy="810" rx="75" ry="45" fill="#2e2e2e" fill-opacity="0.6"/>
<path d="M1500,893 H1700 V980 L1630,990 L1580,962 L1530,945 Z" fill="#5f5f5f" fill-opacity="0.85"/>
<path d="M1340,893 H1500 V935 H1340 Z" fill="#4c4c4c" fill-opacity="0.5"/>
<path d="M1700,893 H1832 L1836,940 L1812,990 L1778,1060 L1752,1160 H1700 Z" fill="#1b1b1b" fill-opacity="0.85"/>
</g><g filter="url(#gb8)">
<path d="M1700,893 H1806 L1810,922 L1788,954 L1760,1005 L1741,1060 L1727,1160 H1700 Z" fill="#343434" fill-opacity="0.95"/>
</g>
<g filter="url(#gb8)">
<path d="M1590,600 H1640 L1652,700 L1656,760 L1640,760 Z" fill="#404040"/>
<path d="M1484,600 H1560 L1612,860 L1592,866 L1552,760 Z" fill="#4c4c4c"/>
</g>
<g filter="url(#gb14)">
<path d="M1645,640 L1664,640 L1684,740 L1680,830 L1664,876 H1645 Z" fill="#212121" fill-opacity="0.9"/>
</g>
<g filter="url(#gb5)">
<path d="M1512,620 H1560 L1615,850 L1603,858 L1568,760 Z" fill="#696969"/>
<path d="M1556,620 H1626 L1642,700 L1652,750 L1652,800 L1649,876 H1622 Z" fill="#464646"/>
<path d="M1606,630 H1630 L1642,705 L1628,722 Z" fill="#373737" fill-opacity="0.9"/>
<ellipse cx="1553.7" cy="850" rx="9" ry="24" fill="#4c4c4c" fill-opacity="0.8"/>
<ellipse cx="1467" cy="862" rx="8" ry="10" fill="#454545" fill-opacity="0.6"/>
</g>
<g filter="url(#gb3)">
<path d="M1573,636 Q1605,748 1637,862" fill="none" stroke="#666666" stroke-width="15" stroke-linecap="butt" stroke-linejoin="round"/>
<path d="M1613,736 L1628,786" fill="none" stroke="#2f2f2f" stroke-width="8.5" stroke-linecap="round" stroke-linejoin="round"/>
<path d="M1628,690 L1638,716" fill="none" stroke="#5c5c5c" stroke-width="8" stroke-linecap="round" stroke-linejoin="round"/>
<path d="M1646.5,794 L1645,750 L1638,714" fill="none" stroke="#747474" stroke-width="9" stroke-linecap="round" stroke-linejoin="round"/>
<path d="M1628,874 L1638,830 L1645,800" fill="none" stroke="#bdbdbd" stroke-width="9.5" stroke-linecap="butt" stroke-linejoin="round"/>
<path d="M1645,802 L1647,786" fill="none" stroke="#999999" stroke-width="8" stroke-linecap="round" stroke-linejoin="round"/>
<path d="M1623,876 L1606,834 L1623,846 L1639,822 L1649,876 Z" fill="#bdbdbd"/>
<path d="M1556.5,636 Q1590,748 1624.5,876" fill="none" stroke="#bfbfbf" stroke-width="19" stroke-linecap="butt" stroke-linejoin="round"/>
</g>
<g filter="url(#gb2)">
<path d="M1556.5,636 Q1590,748 1624.5,876" fill="none" stroke="#f0f0f0" stroke-width="8.5" stroke-linecap="butt" stroke-linejoin="round"/>
<path d="M1625,874 L1633,846" fill="none" stroke="#ededed" stroke-width="8" stroke-linecap="butt" stroke-linejoin="round"/>
</g>
<g filter="url(#gb8)">
<path d="M1632,893 H1700 V985 L1650,1002 L1634,960 Z" fill="#808080"/>
</g>
<g filter="url(#gb5)">
<path d="M1654,955 L1641,985 L1633,1017 L1634,1055 L1641,1090 L1651,1126" fill="none" stroke="url(#g_t3)" stroke-width="14" stroke-linejoin="round"/>
<ellipse cx="1668" cy="1072" rx="12.5" ry="62" fill="#333333" fill-opacity="0.95"/>
<ellipse cx="1667" cy="1012" rx="7" ry="16" fill="#4a4a4a" fill-opacity="0.8"/>
</g>
<g filter="url(#gb3)">
<path d="M1682,899 L1653,958" fill="none" stroke="#c2c2c2" stroke-width="29" stroke-linecap="round" stroke-linejoin="round"/>
<path d="M1681,895 C1692,918 1700,940 1703.3,961 C1706.5,990 1706.5,1015 1704.5,1050 L1699,1126" fill="none" stroke="#bababa" stroke-width="21" stroke-linecap="butt" stroke-linejoin="round"/>
</g>
<g filter="url(#gb2)">
<path d="M1681,895 C1692,918 1700,940 1703.3,961 C1706.5,990 1706.5,1015 1704.5,1050 L1699,1126" fill="none" stroke="#f7f7f7" stroke-width="10.5" stroke-linecap="butt" stroke-linejoin="round"/>
<path d="M1682,900 L1664,934" fill="none" stroke="#ebebeb" stroke-width="9" stroke-linecap="round" stroke-linejoin="round"/>
</g>
<g filter="url(#gb2)">
<rect x="1330" y="868.5" width="322" height="8" fill="#4c4c4c"/>
<ellipse cx="1467" cy="872.5" rx="16" ry="4" fill="#6b6b6b"/>
<ellipse cx="1553.7" cy="872" rx="16" ry="4.5" fill="#737373"/>
<ellipse cx="1553.7" cy="872.5" rx="6" ry="3" fill="#8a8a8a"/>
</g>
<g filter="url(#gb1)">
<rect x="1330" y="875.8" width="440" height="18.2" fill="#333333"/>
<rect x="1330" y="878.2" width="445" height="13.4" fill="#161616"/>
<rect x="1652" y="867.5" width="118" height="9" fill="#262626" fill-opacity="0.9"/>
<rect x="1690" y="878.6" width="84" height="12.4" fill="#0a0a0a"/>
</g>
<g filter="url(#gb14)"><ellipse cx="1800" cy="915" rx="34" ry="30" fill="#212121" fill-opacity="0.8"/></g>
<g filter="url(#gb3)"><path d="M1771,866 Q1786.5,858.5 1802,866 L1802,896 Q1813,913 1800,921 H1773 Q1760,913 1771,896 Z" fill="#6b6b6b"/></g>
<g filter="url(#gb2)"><path d="M1780.3,872.8 H1793.2 L1792.2,888 L1795.8,905.4 H1778.4 L1781.6,888 Z" fill="#ededed"/></g>
</g>
<path d="M1443.6,791 L1466.3,874 L1491,791 M1530,791 L1553.7,874 L1577.4,791 M1625,874 L1648.6,793 M1578,980 L1600.9,900 L1625,982.5 M1681,901 L1660,982" fill="none" stroke="#1c1c1c" stroke-opacity="0.62" stroke-width="1.25" stroke-dasharray="2.6 3.4"/>
<rect x="1340" y="642.8" width="508.29999999999995" height="475.79999999999995" fill="none" stroke="#707070" stroke-width="1.25"/>
<path d="M1330.8,690.2 H1340 M1330.8,753.9 H1340 M1330.8,817.1 H1340 M1330.8,880.8 H1340 M1330.8,944.3 H1340 M1330.8,1007.8 H1340 M1330.8,1071.3 H1340 M1394,1118.6 V1127 M1660.2,1118.6 V1127 " stroke="#707070" stroke-width="1.25" fill="none"/>
<text class="sf" x="1313.8" y="703.4" font-size="40" fill="#000" text-anchor="end">6</text>
<text class="sf" x="1313.8" y="766.8" font-size="40" fill="#000" text-anchor="end">4</text>
<text class="sf" x="1313.8" y="830.2" font-size="40" fill="#000" text-anchor="end">2</text>
<text class="sf" x="1313.8" y="893.8" font-size="40" fill="#000" text-anchor="end">0</text>
<text class="sf" x="1313.8" y="957.3" font-size="40" fill="#000" text-anchor="end">-2</text>
<text class="sf" x="1313.8" y="1020.8" font-size="40" fill="#000" text-anchor="end">-4</text>
<text class="sf" x="1313.8" y="1084.3" font-size="40" fill="#000" text-anchor="end">-6</text>
<text class="sf" x="1405.5" y="1158" font-size="40" fill="#000" text-anchor="middle">3.10</text>
<text class="sf" x="1674.3" y="1158" font-size="40" fill="#000" text-anchor="middle">3.15</text>
<text class="sf" x="1490.5" y="1196.5" font-size="40.4" fill="#000" textLength="196" lengthAdjust="spacingAndGlyphs">Energy (eV)</text>
<text class="sf" x="1396.4" y="627.8" font-size="43.5" fill="#000" textLength="405" lengthAdjust="spacingAndGlyphs">Doping &amp; electric field</text>
<text class="ss" x="1585.6" y="841.7" font-size="27" fill="#1c1c1c" text-anchor="middle">I</text>
<text class="ss" x="1663.2" y="841.7" font-size="27" fill="#1c1c1c" textLength="11.5" lengthAdjust="spacingAndGlyphs">II</text>
<text class="ss" x="1648.9" y="1020.2" font-size="26" fill="#1c1c1c" textLength="19.5" lengthAdjust="spacingAndGlyphs">III</text>
<text class="ss" x="1720" y="1020.2" font-size="26" fill="#1c1c1c" textLength="24" lengthAdjust="spacingAndGlyphs">IV</text>
<text class="ss" x="1719.6" y="678.9" font-size="18.5" fill="#1c1c1c" textLength="98.3" lengthAdjust="spacingAndGlyphs">Norm. UPL</text>
<text class="ss" x="1716.6" y="707.8" font-size="19" fill="#1c1c1c" text-anchor="middle" textLength="12.4" lengthAdjust="spacingAndGlyphs">0</text>
<text class="ss" x="1766.4" y="707.8" font-size="19" fill="#1c1c1c" text-anchor="middle" textLength="29.6" lengthAdjust="spacingAndGlyphs">0.5</text>
<text class="ss" x="1815.5" y="707.8" font-size="19" fill="#1c1c1c" text-anchor="middle" textLength="27" lengthAdjust="spacingAndGlyphs">1.0</text>
<rect x="1712.2" y="718.4" width="105.4" height="26" fill="url(#gJet)" stroke="#222" stroke-width="1"/>
<path d="M1765.1,718.5 V727.5 M1712.8,721 V729" stroke="#444" stroke-width="1.1"/>
<rect x="1377.4" y="1068.3" width="102.9" height="35.5" fill="#ddd6fc" fill-opacity="0.56"/>
<text class="ss" font-size="23" fill="#1c1c1c" y="1091.7"><tspan x="1384.8" font-style="italic">V</tspan><tspan x="1399.2" dy="6.8" font-size="15">tg</tspan><tspan x="1420.6" dy="-6.8">=</tspan><tspan x="1438.8">0</tspan><tspan x="1461.3">V</tspan></text></g>
</svg>
</body>
</html>
